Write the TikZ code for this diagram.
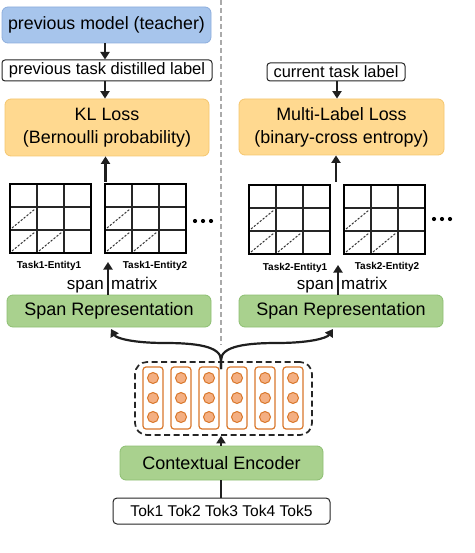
\documentclass[tikz,border=0pt]{standalone}
\usepackage{fontspec}
\setmainfont{Liberation Sans}
\usetikzlibrary{arrows.meta}
\definecolor{blueF}{HTML}{A7C5EC}
\definecolor{blueD}{HTML}{8DAEDD}
\definecolor{orangeF}{HTML}{FFD990}
\definecolor{orangeD}{HTML}{F5C66E}
\definecolor{greenF}{HTML}{A9D18E}
\definecolor{greenD}{HTML}{8DBF72}
\definecolor{colD}{HTML}{D9772B}
\definecolor{cirF}{HTML}{F4AF82}
\definecolor{sepgray}{HTML}{AAAAAA}
\begin{document}
\begin{tikzpicture}[x=1pt,y=-1pt,
  boxbase/.style={rounded corners=6pt, inner sep=0pt, align=center, line width=0.8pt},
  bluebox/.style={boxbase, fill=blueF, draw=blueD, font=\fontsize{17.8}{22}\selectfont},
  orangebox/.style={boxbase, fill=orangeF, draw=orangeD, font=\fontsize{17.9}{23}\selectfont},
  greenbox/.style={boxbase, fill=greenF, draw=greenD, font=\fontsize{18}{22}\selectfont},
  labelbox/.style={boxbase, rounded corners=3pt, fill=white, draw=black!85, line width=1pt},
  arr/.style={line width=2.2pt, draw=black!88, -{Triangle[length=7.5pt,width=9pt]}},
  plainline/.style={line width=2.2pt, draw=black!88},
  tasklbl/.style={font=\fontsize{10}{12}\selectfont\bfseries, inner sep=0pt},
  spantxt/.style={font=\fontsize{17}{20}\selectfont, inner sep=0pt},
  smgrid/.pic={
    \foreach \i in {1,2}{
      \draw[line width=1.1pt, black!85] (27*\i,0) -- (27*\i,69);
      \draw[line width=1.1pt, black!85] (0,23*\i) -- (81,23*\i);
    }
    \draw[line width=2pt] (0,0) rectangle (81,69);
    \draw[line width=1pt, dash pattern=on 2.2pt off 1.6pt, black!80]
      (2,44) -- (25,25) (2,67) -- (25,48) (29,67) -- (52,48);
  },
  colbox/.style={rounded corners=3pt, draw=colD, line width=1.2pt},
  cir/.style={circle, fill=cirF, draw=colD, line width=1pt, minimum size=11pt, inner sep=0pt}
]
\useasboundingbox (0,0) rectangle (474,553);

% separator
\draw[sepgray, line width=1.6pt, dash pattern=on 5pt off 3pt] (221,0) -- (221,345);

% left column
\node[bluebox, minimum width=209pt, minimum height=36pt] (teacher) at (106.5,25) {previous model (teacher)};
\node[labelbox, minimum width=210pt, minimum height=21pt, font=\fontsize{16.5}{20}\selectfont] (distilled) at (107,70.5) {previous task distilled label};
\node[orangebox, minimum width=204pt, minimum height=57pt] (kl) at (107,127.5) {KL Loss\\(Bernoulli probability)};
\node[greenbox, minimum width=204pt, minimum height=32pt] (spanL) at (109,311) {Span Representation};

% right column
\node[labelbox, minimum width=138pt, minimum height=18pt, font=\fontsize{16.4}{20}\selectfont] (current) at (336,72) {current task label};
\node[orangebox, minimum width=205pt, minimum height=56pt] (ml) at (341.5,127) {Multi-Label Loss\\(binary-cross entropy)};
\node[greenbox, minimum width=204pt, minimum height=32pt] (spanR) at (341,311) {Span Representation};

% grids
\pic at (10,184) {smgrid};
\pic at (105,184) {smgrid};
\pic at (249,185) {smgrid};
\pic at (344,185) {smgrid};
\coordinate (gtopL) at (105.5,182);
\coordinate (gtopR) at (336,182);

\foreach \x in {195,203,211} \fill (\x,221) circle (2.1pt);
\foreach \x in {434,442,450} \fill (\x,219) circle (2.1pt);

\node[tasklbl] (t11) at (49,266) {Task1-Entity1};
\node[tasklbl] (t12) at (155,266) {Task1-Entity2};
\node[tasklbl] (t21) at (295,267.5) {Task2-Entity1};
\node[tasklbl] (t22) at (387,267) {Task2-Entity2};

\node[spantxt, anchor=base east] (spanwL) at (104,289) {span};
\node[spantxt, anchor=base west] (matwL) at (111,289) {matrix};
\node[spantxt, anchor=base east] (spanwR) at (334,289) {span};
\node[spantxt, anchor=base west] (matwR) at (341,289) {matrix};

% reference x coordinates
\coordinate (xa) at (105,0);
\coordinate (xb) at (337,0);
\coordinate (xsl) at (108,0);
\coordinate (xsr) at (338,0);
\coordinate (sml) at (108,262);
\coordinate (smr) at (338,265);

\draw[arr] (teacher.south -| xa) -- (distilled.north -| xa);
\draw[arr] (distilled.south -| xa) -- (kl.north -| xa);
\draw[arr] (current.south -| xb) -- (ml.north -| xb);
\draw[arr] (gtopL) -- (kl.south -| gtopL);
\draw[arr] (gtopR) -- (ml.south -| gtopR);
\draw[arr] (spanL.north -| xsl) -- (sml);
\draw[arr] (spanR.north -| xsr) -- (smr);

% bottom part
\node[draw=black!85, line width=1.7pt, dash pattern=on 6pt off 3.5pt, rounded corners=12pt,
      minimum width=177pt, minimum height=73pt, inner sep=0pt] (hidden) at (223.5,398.5) {};
\foreach \i in {0,...,5}{
  \pgfmathsetmacro{\cx}{153+28*\i}
  \draw[colbox] (\cx-10,367) rectangle (\cx+10,429);
  \node[cir] (c\i a) at (\cx,378) {};
  \node[cir] (c\i b) at (\cx,398) {};
  \node[cir] (c\i c) at (\cx,417) {};
}
\node[greenbox, minimum width=203pt, minimum height=34pt] (ctx) at (221.5,463) {Contextual Encoder};
\node[labelbox, rounded corners=4pt, minimum width=217pt, minimum height=26pt, font=\fontsize{15.6}{19}\selectfont] (tok) at (221.5,511) {Tok1 Tok2 Tok3 Tok4 Tok5};

\coordinate (xc) at (221,0);
\coordinate (hub) at (221,369);
\draw[plainline] (tok.north -| xc) -- (ctx.south -| xc);
\draw[arr] (ctx.north -| xc) -- (hidden.south -| xc);

\coordinate (tl) at (111,329);
\coordinate (tr) at (333,329);
\draw[arr] (hub) -- (221,360) .. controls (221,346) and (195,343) .. (165,343) .. controls (132,343) and (116,338) .. (tl);
\draw[arr] (hub) -- (221,360) .. controls (221,346) and (247,343) .. (277,343) .. controls (310,343) and (327,338) .. (tr);
\end{tikzpicture}
\end{document}
